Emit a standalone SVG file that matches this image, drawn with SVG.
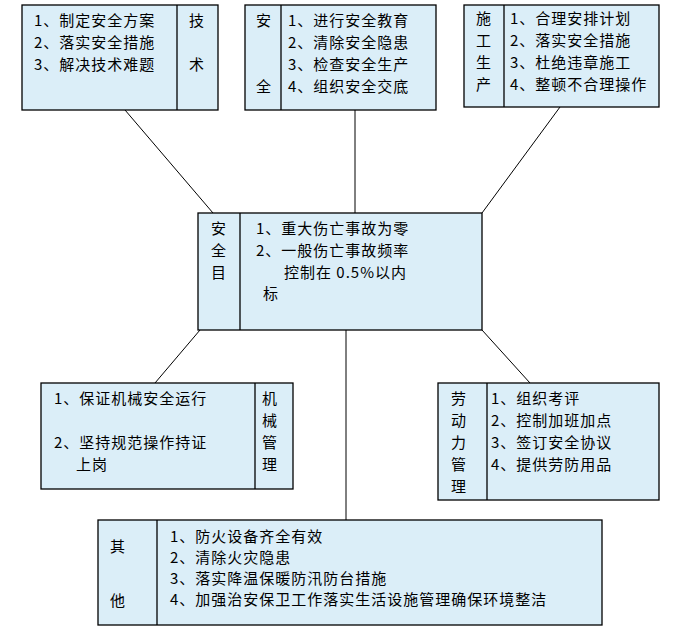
<svg xmlns="http://www.w3.org/2000/svg" width="694" height="636" viewBox="0 0 694 636">
<style>
.b{fill:#dbeef8;stroke:#000;stroke-width:1.3}
.d{stroke:#000;stroke-width:1.3}
text{font-family:"Noto Sans CJK SC","Liberation Serif",serif;font-size:15px;letter-spacing:1px;fill:#000}
</style>
<rect width="694" height="636" fill="#fff"/>
<g id="connectors" stroke="#000" stroke-width="1">
<line x1="125" y1="110" x2="213" y2="213"/>
<line x1="355" y1="110" x2="355" y2="213"/>
<line x1="560" y1="107" x2="482" y2="213"/>
<line x1="200" y1="330" x2="155" y2="383"/>
<line x1="482" y1="330" x2="530" y2="383"/>
<line x1="346" y1="330" x2="346" y2="625"/>
</g>
<g id="tech">
<rect class="b" x="22" y="5" width="196" height="105"/><line class="d" x1="177" y1="5" x2="177" y2="110"/>
<text x="34" y="26">1、制定安全方案</text><text x="34" y="48">2、落实安全措施</text><text x="34" y="70">3、解决技术难题</text>
<text x="189" y="26">技</text><text x="189" y="70">术</text>
</g>
<g id="safety">
<rect class="b" x="245" y="5" width="191" height="105"/><line class="d" x1="281" y1="5" x2="281" y2="110"/>
<text x="256" y="26">安</text><text x="256" y="92">全</text>
<text x="288" y="26">1、进行安全教育</text><text x="288" y="48">2、清除安全隐患</text><text x="288" y="70">3、检查安全生产</text><text x="288" y="92">4、组织安全交底</text>
</g>
<g id="production">
<rect class="b" x="464" y="5" width="195" height="102"/><line class="d" x1="504" y1="5" x2="504" y2="107"/>
<text x="476" y="24">施</text><text x="476" y="46">工</text><text x="476" y="68">生</text><text x="476" y="90">产</text>
<text x="510" y="24">1、合理安排计划</text><text x="510" y="46">2、落实安全措施</text><text x="510" y="68">3、杜绝违章施工</text><text x="510" y="90">4、整顿不合理操作</text>
</g>
<g id="goal">
<rect class="b" x="198" y="213" width="284" height="117"/><line class="d" x1="240" y1="213" x2="240" y2="330"/>
<text x="211" y="234">安</text><text x="211" y="256">全</text><text x="211" y="278">目</text><text x="263" y="299">标</text>
<text x="256" y="234">1、重大伤亡事故为零</text><text x="256" y="256">2、一般伤亡事故频率</text><text x="284" y="278">控制在 0.5%以内</text>
</g>
<g id="machine">
<rect class="b" x="41" y="383" width="252" height="106"/><line class="d" x1="255" y1="383" x2="255" y2="489"/>
<text x="54" y="404">1、保证机械安全运行</text><text x="54" y="448">2、坚持规范操作持证</text><text x="76" y="470">上岗</text>
<text x="262" y="404">机</text><text x="262" y="426">械</text><text x="262" y="448">管</text><text x="262" y="470">理</text>
</g>
<g id="labor">
<rect class="b" x="438" y="383" width="221" height="117"/><line class="d" x1="487" y1="383" x2="487" y2="500"/>
<text x="451" y="404">劳</text><text x="451" y="426">动</text><text x="451" y="448">力</text><text x="451" y="470">管</text><text x="451" y="492">理</text>
<text x="491" y="404">1、组织考评</text><text x="491" y="426">2、控制加班加点</text><text x="491" y="448">3、签订安全协议</text><text x="491" y="470">4、提供劳防用品</text>
</g>
<g id="other">
<rect class="b" x="98" y="520" width="504" height="105"/><line class="d" x1="157" y1="520" x2="157" y2="625"/>
<text x="110" y="552">其</text><text x="110" y="606">他</text>
<text x="170" y="542">1、防火设备齐全有效</text><text x="170" y="563">2、清除火灾隐患</text><text x="170" y="584">3、落实降温保暖防汛防台措施</text><text x="170" y="605">4、加强治安保卫工作落实生活设施管理确保环境整洁</text>
</g>
</svg>
